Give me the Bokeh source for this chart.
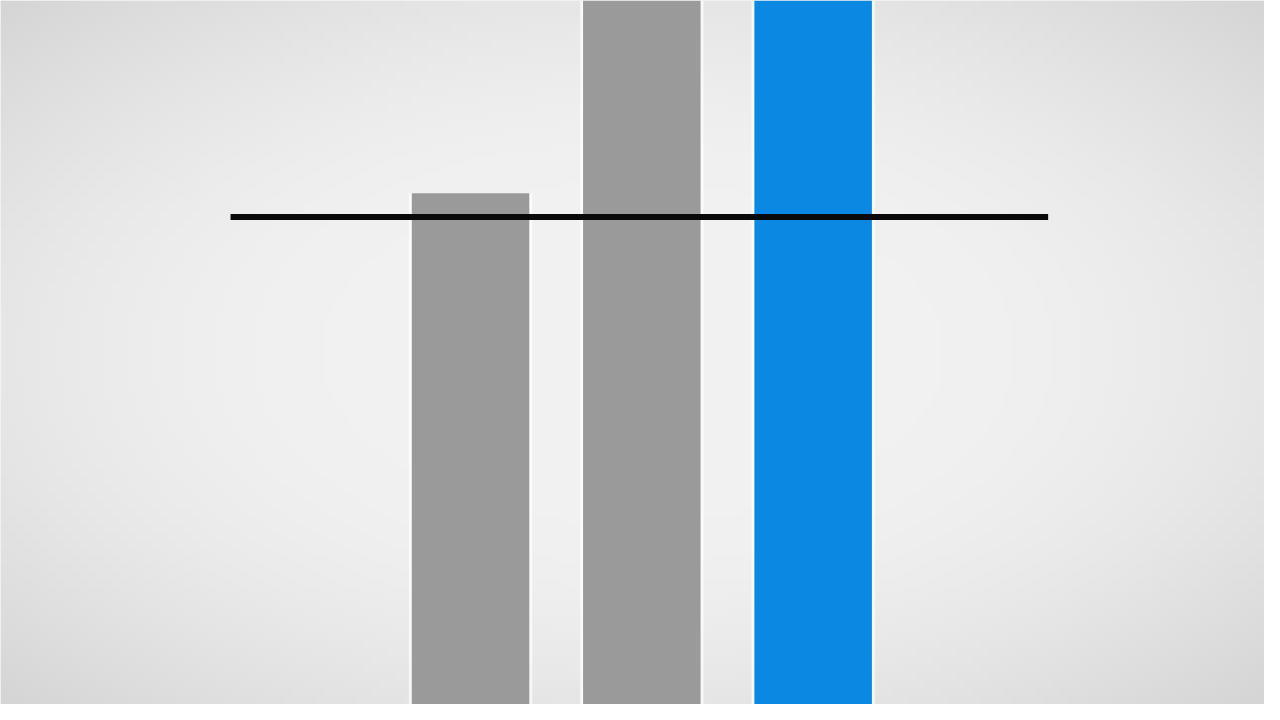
import numpy as np
from bokeh.plotting import figure
from bokeh.models import Range1d
from bokeh.embed import file_html
from bokeh.resources import INLINE

# Data
categories = [1, 2, 3]
values = [86, 130, 130]
bar_colors = ["#9a9a9a", "#9a9a9a", "#0a88e2"]
target = 82

W, H = 1264, 704
x0, x1 = -1.744, 5.635
y0, y1 = 0, 118.4

p = figure(width=W, height=H, output_backend="svg", toolbar_location=None,
           x_range=Range1d(x0, x1), y_range=Range1d(y0, y1), min_border=0)
p.axis.visible = False
p.grid.visible = False
p.outline_line_color = None
p.background_fill_color = "#efefef"
p.border_fill_color = "#efefef"

# Vignette background
nx, ny = 160, 90
gx = np.linspace(-1, 1, nx)
gy = np.linspace(-1, 1, ny)
XX, YY = np.meshgrid(gx, gy)
r = np.sqrt(XX ** 2 + YY ** 2) / np.sqrt(2)
shade = np.clip(241 - 28 * np.clip((r - 0.35) / 0.65, 0, 1) ** 1.6, 0, 255).astype(np.uint32)
img = np.empty((ny, nx), dtype=np.uint32)
view = img.view(dtype=np.uint8).reshape((ny, nx, 4))
view[:, :, 0] = shade
view[:, :, 1] = shade
view[:, :, 2] = shade
view[:, :, 3] = 255
p.image_rgba(image=[img], x=x0, y=y0, dw=x1 - x0, dh=y1 - y0)

# soft light halo around bars
p.vbar(x=categories, top=values, bottom=0, width=0.72, fill_color="#ffffff", fill_alpha=0.7, line_color=None)
p.vbar(x=categories, top=values, bottom=0, width=0.686, fill_color=bar_colors, line_color=None)
p.segment(x0=[-0.401], y0=[target], x1=[4.372], y1=[target], line_color="#0a0a0a", line_width=6)

open("out.html", "w").write(file_html(p, INLINE))
